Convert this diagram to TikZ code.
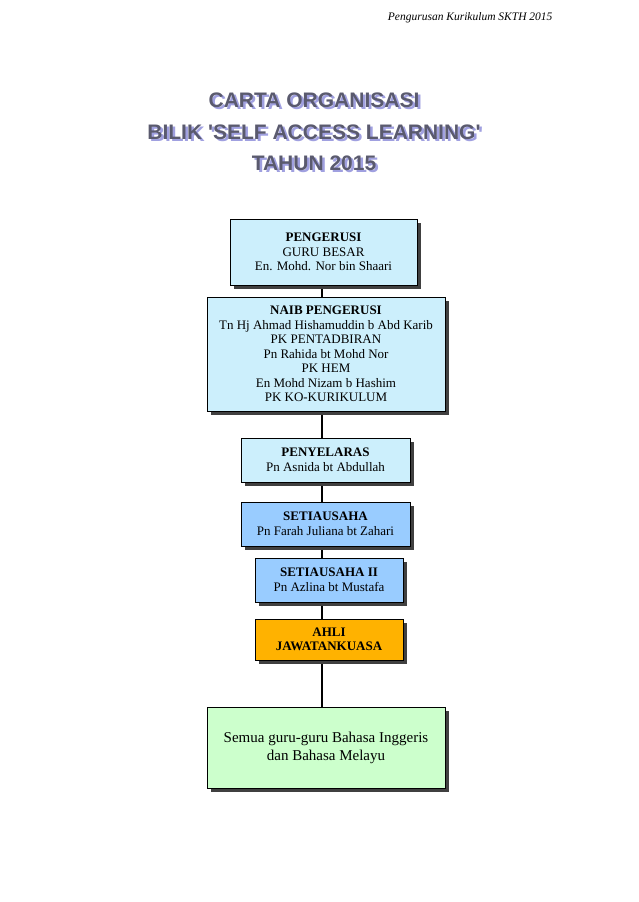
\documentclass[tikz,border=0pt]{standalone}
\usepackage{fontspec}
\setmainfont{Liberation Serif}
\newfontfamily\titlefont{Liberation Sans}
\definecolor{setblue}{HTML}{99CCFF}
\definecolor{ttlfg}{HTML}{5A5A6E}
\definecolor{ttlsh}{HTML}{A0A0E0}
\begin{document}
\begin{tikzpicture}[x=1pt,y=-1pt,
  bx/.style={draw=black,line width=0.6pt,inner sep=0pt,font=\fontsize{13}{14.5}\selectfont,align=center},
  shd/.style={fill=black!75},
  ttl/.style={font=\titlefont\bfseries\fontsize{21}{24}\selectfont}]
\useasboundingbox (0,0) rectangle (638,902);
\fill[white] (0,0) rectangle (638,902);
\node[anchor=east,font=\itshape\fontsize{11.5}{12}\selectfont] (hdr) at (556,18) {Pengurusan Kurikulum SKTH 2015};
% title
\foreach \t/\y in {CARTA ORGANISASI/100,BILIK 'SELF ACCESS LEARNING'/132,TAHUN 2015/163}{
  \node[ttl,text=ttlsh] at (316.5,\y+2.5) {\t};
  \node[ttl,text=ttlfg] at (314,\y) {\t};
}
% connector
\coordinate (top) at (322,285);
\coordinate (bot) at (322,707);
\draw[line width=2pt] (top) -- (bot);
% boxes
\newcommand\obox[6]{%
  \fill[shd] (#1+4,#2+4) rectangle (#3+4,#4+4);
  \node[bx,fill=#5,minimum width=#3-#1,minimum height=#4-#2] (#6) at ({(#1+#3)/2},{(#2+#4)/2}) {};
}
\obox{230}{219}{417}{285}{cyan!20}{b1}
\obox{207}{297}{445}{411}{cyan!20}{b2}
\obox{241}{438}{410}{482}{cyan!20}{b3}
\obox{241}{502}{410}{546}{setblue}{b4}
\obox{255}{558}{403}{602}{setblue}{b5}
\obox{255}{619}{403}{660}{orange!60!yellow}{b6}
\obox{207}{707}{445}{788}{green!20}{b7}
\node[bx,draw=none] at (b1) {\textbf{PENGERUSI}\\GURU BESAR\\En. Mohd. Nor bin Shaari};
\node[bx,draw=none] at (b2) {\textbf{NAIB PENGERUSI}\\Tn Hj Ahmad Hishamuddin b Abd Karib\\PK PENTADBIRAN\\Pn Rahida bt Mohd Nor\\PK HEM\\En Mohd Nizam b Hashim\\PK KO-KURIKULUM};
\node[bx,draw=none] at (b3) {\textbf{PENYELARAS}\\Pn Asnida bt Abdullah};
\node[bx,draw=none] at (b4) {\textbf{SETIAUSAHA}\\Pn Farah Juliana bt Zahari};
\node[bx,draw=none] at (b5) {\textbf{SETIAUSAHA II}\\Pn Azlina bt Mustafa};
\node[bx,draw=none] at (b6) {\textbf{AHLI}\\\textbf{JAWATANKUASA}};
\node[bx,draw=none,font=\fontsize{15}{18}\selectfont] at (b7) {Semua guru-guru Bahasa Inggeris\\dan Bahasa Melayu};
\end{tikzpicture}
\end{document}
